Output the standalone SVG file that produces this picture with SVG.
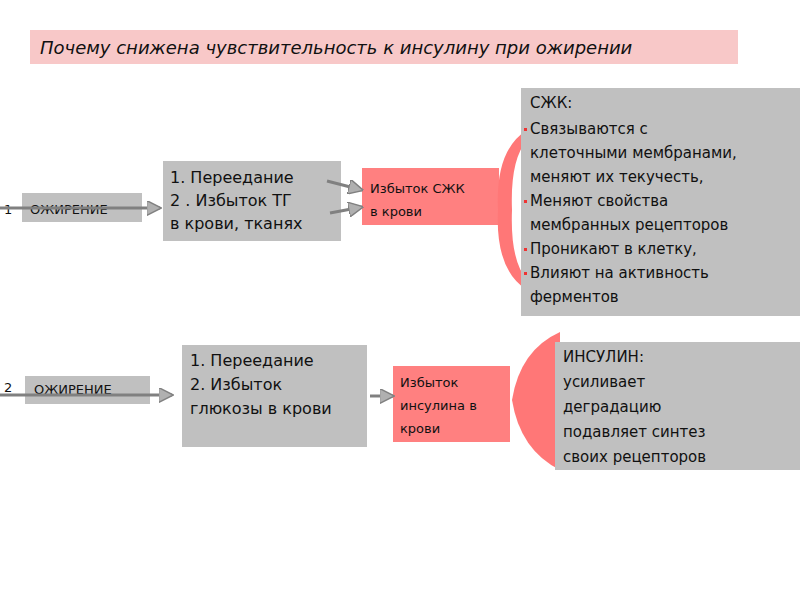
<svg xmlns="http://www.w3.org/2000/svg" width="800" height="600" viewBox="0 0 800 600">
<defs>
<style>
text{font-family:"DejaVu Sans","Liberation Sans",sans-serif;fill:#111}
.g{fill:#c0c0c0}
.r{fill:#ff8080}
.t{font-size:16px}
.s{font-size:13px}
.b{font-size:15px}
.c{stroke:#808080;stroke-width:3;fill:none;marker-end:url(#a)}
</style>
<marker id="a" viewBox="0 0 10 10" refX="9" refY="5" markerWidth="5" markerHeight="5" orient="auto"><path d="M0,0 L10,5 L0,10 z" fill="#b0b0b0" stroke="#808080"/></marker>
</defs>
<rect width="800" height="600" fill="#fff"/>
<g id="title"><rect x="30" y="30" width="708" height="34" fill="#f8c8c8"/><text x="40" y="54" style="font-size:18px;font-style:italic">Почему снижена чувствительность к инсулину при ожирении</text></g>
<g id="ob1"><rect class="g" x="22" y="193" width="120" height="29"/><text x="4" y="214" class="s">1</text><text x="30" y="214" class="s" fill="#444">ОЖИРЕНИЕ</text></g>
<g id="cause1"><rect class="g" x="163" y="161" width="178" height="80"/><text class="t" x="170" y="183">1. Переедание</text><text class="t" x="170" y="206">2 . Избыток ТГ</text><text class="t" x="170" y="229">в крови, тканях</text></g>
<g id="ffa"><rect class="r" x="362" y="168" width="137" height="57"/><text class="s" x="370" y="193">Избыток СЖК</text><text class="s" x="370" y="216">в крови</text></g>
<g id="brace1"><path d="M527,130 Q495,150 498,210 Q495,270 527,290 L527,280 Q510,260 512,210 Q510,160 527,140 z" fill="#f77"/></g>
<g id="ffaeff"><rect class="g" x="521" y="88" width="279" height="228"/>
<g class="b"><text x="530" y="108">СЖК:</text>
<text x="530" y="134">Связываются с</text><text x="530" y="158">клеточными мембранами,</text><text x="530" y="182">меняют их текучесть,</text><text x="530" y="206">Меняют свойства</text><text x="530" y="230">мембранных рецепторов</text><text x="530" y="254">Проникают в клетку,</text><text x="530" y="278">Влияют на активность</text><text x="530" y="302">ферментов</text></g>
<g fill="#e33"><rect x="524" y="128" width="3" height="3"/><rect x="524" y="200" width="3" height="3"/><rect x="524" y="248" width="3" height="3"/><rect x="524" y="272" width="3" height="3"/></g></g>
<g id="ob2"><rect class="g" x="25" y="376" width="125" height="28"/><text x="4" y="392" class="s">2</text><text x="34" y="394" class="s" fill="#444">ОЖИРЕНИЕ</text></g>
<g id="cause2"><rect class="g" x="182" y="345" width="185" height="102"/><text class="t" x="190" y="366">1. Переедание</text><text class="t" x="190" y="390">2. Избыток</text><text class="t" x="190" y="414">глюкозы в крови</text></g>
<g id="ins"><rect class="r" x="393" y="366" width="117" height="76"/><text class="s" x="400" y="387">Избыток</text><text class="s" x="400" y="410">инсулина в</text><text class="s" x="400" y="433">крови</text></g>
<g id="brace2"><path d="M560,332 Q520,350 512,400 Q520,450 560,470 L560,332 z" fill="#f77"/></g>
<g id="insinfo"><rect class="g" x="555" y="342" width="245" height="128"/>
<g class="b"><text x="563" y="362">ИНСУЛИН:</text><text x="563" y="387">усиливает</text><text x="563" y="412">деградацию</text><text x="563" y="437">подавляет синтез</text><text x="563" y="462">своих рецепторов</text></g></g>
<g id="connectors">
<path class="c" d="M0,208 L160,208"/>
<path class="c" d="M327,181 L362,190"/>
<path class="c" d="M330,213 L362,207"/>
<path class="c" d="M0,395 L172,395"/>
<path class="c" d="M370,396 L393,396"/>
</g>
</svg>
